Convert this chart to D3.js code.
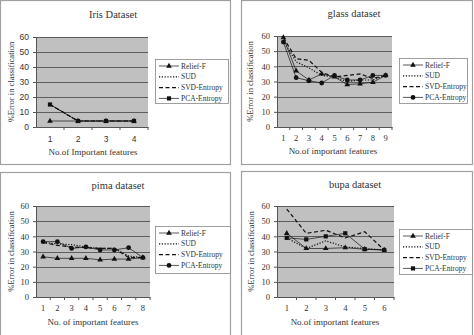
<!DOCTYPE html>
<html>
<head>
<meta charset="utf-8">
<script src="https://cdn.jsdelivr.net/npm/d3@7"></script>
<style>
  body { margin: 0; background: #fff; }
  svg { display: block; }
</style>
</head>
<body>
<div id="chart"></div>
<script>
// series names, same in every panel
let seriesNames = ['Relief-F', 'SUD', 'SVD-Entropy', 'PCA-Entropy'];
let yTicks = [0, 10, 20, 30, 40, 50, 60];

// Iris dataset
let irisFeatures = [1, 2, 3, 4];
let irisRelief = [4, 4, 4, 4];
let irisSud = [15, 4, 4, 4];
let irisSvd = [15, 4, 4, 4];
let irisPca = [15, 4, 4, 4];

// glass dataset
let glassFeatures = [1, 2, 3, 4, 5, 6, 7, 8, 9];
let glassRelief = [59, 37, 31, 35, 33, 28, 28.5, 29.5, 34];
let glassSud = [57, 43, 39, 34, 33, 30, 31, 31, 34];
let glassSvd = [59, 45, 44, 36, 33, 34, 35, 32, 34];
let glassPca = [56, 32.5, 30.5, 29, 34, 31, 31, 34, 34];

// pima dataset
let pimaFeatures = [1, 2, 3, 4, 5, 6, 7, 8];
let pimaRelief = [26.5, 25.5, 25.5, 25.5, 24.5, 25, 25, 26];
let pimaSud = [36, 35, 34.5, 33, 32, 32, 27, 26];
let pimaSvd = [36, 34, 33, 32.5, 32, 32, 26, 26];
let pimaPca = [36.5, 36.5, 32, 33, 31, 31, 32.5, 26];

// bupa dataset
let bupaFeatures = [1, 2, 3, 4, 5, 6];
let bupaRelief = [42, 32, 32, 32.5, 31.5, 31];
let bupaSud = [39, 32, 37, 33, 32, 31];
let bupaSvd = [58, 42, 44, 39, 43, 31];
let bupaPca = [39, 38, 40, 42, 31.5, 31];

let SERIF = "'Liberation Serif', 'DejaVu Serif', serif";
let SANS = "'Liberation Sans', Arial, sans-serif";
let TEXT_COLOR = '#333';

let svg = d3.select('#chart')
.append('svg')
.attr('width', 474)
.attr('height', 335);

// series styles: dash pattern and marker
let styles = [
  {dash: null, marker: 'triangle', width: 0.7},
  {dash: '1.2,1.6', marker: null, width: 1.2},
  {dash: '4,2.5', marker: null, width: 1.2},
  {dash: null, marker: 'square', width: 0.7}
];

function drawMarker(g, kind, x, y) {
  if (kind === 'triangle') {
    g.append('path')
    .attr('d', d3.symbol().type(d3.symbolTriangle).size(14)())
    .attr('transform', 'translate(' + x + ',' + y + ')')
    .attr('fill', '#111');
  } else if (kind === 'square') {
    g.append('rect')
    .attr('x', x - 2.1).attr('y', y - 2.1)
    .attr('width', 4.2).attr('height', 4.2)
    .attr('fill', '#111');
  } else if (kind === 'circle') {
    g.append('circle')
    .attr('cx', x).attr('cy', y).attr('r', 2.4)
    .attr('fill', '#111');
  }
}

function addText(g, x, y, size, family, str) {
  return g.append('text')
  .attr('x', x).attr('y', y)
  .style('font-family', family)
  .style('font-size', size)
  .attr('fill', TEXT_COLOR)
  .text(str);
}

// p - panel layout, features - categories, series - the four value arrays
function drawPanel(p, features, series) {
  let g = svg.append('g');

  // panel frame
  g.append('rect')
  .attr('x', p.frame[0] + 0.5).attr('y', p.frame[1] + 0.5)
  .attr('width', p.frame[2]).attr('height', p.frame[3])
  .attr('fill', '#fff')
  .attr('stroke', '#a0a0a0')
  .attr('stroke-width', 1.2);

  let x = d3.scaleBand()
  .domain(features)
  .range([p.plot[0], p.plot[1]]);

  let y = d3.scaleLinear()
  .domain([0, 60])
  .range([p.plot[3], p.plot[2]]);

  // plot area
  g.append('rect')
  .attr('x', p.plot[0]).attr('y', p.plot[2])
  .attr('width', p.plot[1] - p.plot[0])
  .attr('height', p.plot[3] - p.plot[2])
  .attr('fill', '#c0c0c0');

  // gridlines
  g.selectAll('.grid')
  .data(yTicks.slice(1))
  .enter()
  .append('line')
  .attr('x1', p.plot[0]).attr('x2', p.plot[1])
  .attr('y1', function(d) { return Math.round(y(d)) + 0.5; })
  .attr('y2', function(d) { return Math.round(y(d)) + 0.5; })
  .attr('stroke', '#444')
  .attr('stroke-width', 0.8);

  let tickFont = p.sansTicks ? SANS : SERIF;

  // y axis
  let yAxis = g.append('g')
  .attr('transform', 'translate(' + p.plot[0] + ',0)')
  .call(d3.axisLeft(y).tickValues(yTicks).tickSize(3).tickPadding(4));
  yAxis.select('.domain').attr('stroke', '#555');
  yAxis.selectAll('line').attr('stroke', '#555');
  yAxis.selectAll('text')
  .style('font-family', tickFont)
  .style('font-size', '8.5px')
  .attr('fill', TEXT_COLOR);

  // x axis: Excel style tick marks between categories
  let xAxis = g.append('g')
  .attr('transform', 'translate(0,' + p.plot[3] + ')')
  .call(d3.axisBottom(x).tickSize(0).tickPadding(p.xPad));
  xAxis.select('.domain').attr('stroke', '#555');
  xAxis.selectAll('text')
  .style('font-family', tickFont)
  .style('font-size', '8.5px')
  .attr('fill', TEXT_COLOR);
  xAxis.selectAll('.sep')
  .data(features)
  .enter()
  .append('line')
  .attr('x1', function(d) { return x(d) + x.bandwidth(); })
  .attr('x2', function(d) { return x(d) + x.bandwidth(); })
  .attr('y1', 0).attr('y2', 3)
  .attr('stroke', '#555');

  // series lines
  series.forEach(function(values, i) {
    let st = styles[i];
    let line = d3.line()
    .x(function(d, j) { return x(features[j]) + x.bandwidth() / 2; })
    .y(function(d) { return y(d); });
    g.append('path')
    .datum(values)
    .attr('d', line)
    .attr('fill', 'none')
    .attr('stroke', '#111')
    .attr('stroke-width', st.width)
    .attr('stroke-dasharray', st.dash);
    let marker = (i === 3) ? p.pcaMarker : st.marker;
    if (marker) {
      values.forEach(function(v, j) {
        drawMarker(g, marker, x(features[j]) + x.bandwidth() / 2, y(v));
      });
    }
  });

  // titles
  addText(g, p.title[0], p.title[1], '10.5px', SERIF, p.name)
  .attr('text-anchor', 'middle');

  addText(g, p.xTitle[0], p.xTitle[1], '9px', SERIF, p.xLabel)
  .attr('text-anchor', 'middle');

  addText(g, 0, 0, '8.5px', SERIF, '%Error in classification')
  .attr('transform', 'translate(' + p.yTitleX + ',' + ((p.plot[2] + p.plot[3]) / 2) + ') rotate(-90)')
  .attr('text-anchor', 'middle');

  // legend
  let lg = g.append('g');
  lg.append('rect')
  .attr('x', p.legend[0] + 0.5).attr('y', p.legend[1] + 0.5)
  .attr('width', p.legend[2]).attr('height', p.legend[3])
  .attr('fill', '#fff')
  .attr('stroke', '#888')
  .attr('stroke-width', 0.8);
  seriesNames.forEach(function(name, i) {
    let st = styles[i];
    let ly = p.legend[1] + 7 + i * 10.8;
    let lx = p.legend[0] + 4;
    lg.append('line')
    .attr('x1', lx).attr('x2', lx + 20)
    .attr('y1', ly).attr('y2', ly)
    .attr('stroke', '#111')
    .attr('stroke-width', st.width)
    .attr('stroke-dasharray', st.dash);
    let marker = (i === 3) ? p.pcaMarker : st.marker;
    if (marker) drawMarker(lg, marker, lx + 10, ly);
    addText(lg, lx + 22, ly, '7.5px', SERIF, name)
    .attr('dominant-baseline', 'central');
  });
}

drawPanel({
  name: 'Iris Dataset', xLabel: 'No.of Important features',
  frame: [0, 0, 230, 164], plot: [36, 148, 37, 127],
  legend: [155, 59, 73, 44], title: [113, 18], xTitle: [93, 155],
  yTitleX: 14, xPad: 9, sansTicks: true, pcaMarker: 'square'
}, irisFeatures, [irisRelief, irisSud, irisSvd, irisPca]);

drawPanel({
  name: 'glass dataset', xLabel: 'No.of important features',
  frame: [241, 0, 231, 164], plot: [277, 392, 36, 127],
  legend: [399, 58, 68, 45], title: [354, 17], xTitle: [333, 154],
  yTitleX: 253, xPad: 8, sansTicks: false, pcaMarker: 'circle'
}, glassFeatures, [glassRelief, glassSud, glassSvd, glassPca]);

drawPanel({
  name: 'pima dataset', xLabel: 'No. of important features',
  frame: [0, 172, 230, 170], plot: [36, 150, 206, 297],
  legend: [155, 226, 75, 47], title: [118, 189], xTitle: [93, 325],
  yTitleX: 14, xPad: 8, sansTicks: false, pcaMarker: 'circle'
}, pimaFeatures, [pimaRelief, pimaSud, pimaSvd, pimaPca]);

drawPanel({
  name: 'bupa dataset', xLabel: 'No.of important features',
  frame: [241, 171, 231, 170], plot: [277, 394, 206, 297],
  legend: [399, 229, 73, 45], title: [355, 188], xTitle: [335, 325],
  yTitleX: 254, xPad: 8, sansTicks: false, pcaMarker: 'square'
}, bupaFeatures, [bupaRelief, bupaSud, bupaSvd, bupaPca]);
</script>
</body>
</html>
